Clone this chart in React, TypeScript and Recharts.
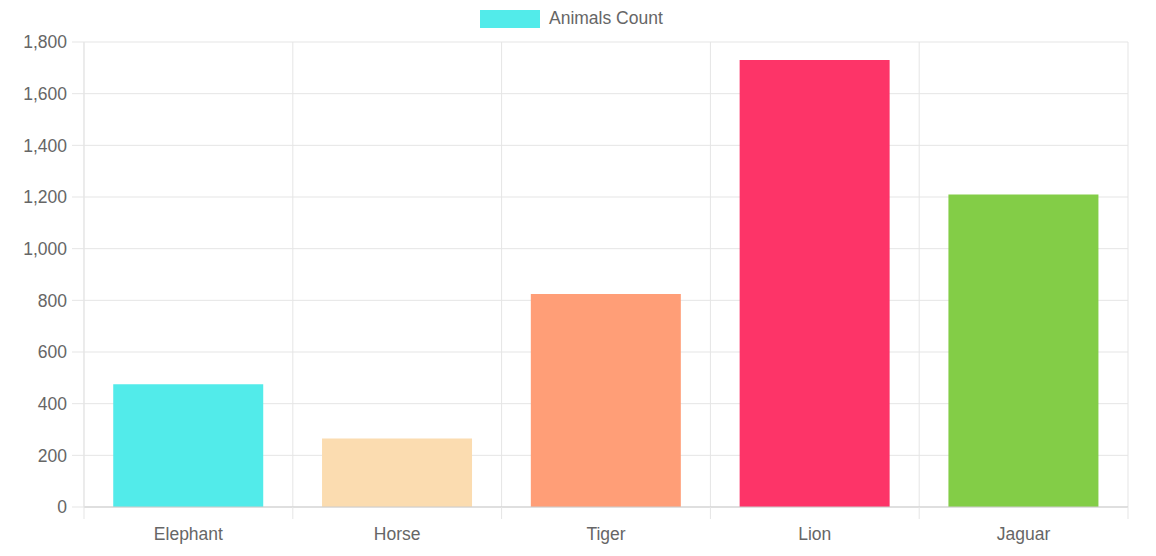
import React from 'react';
import { BarChart, Bar, XAxis, YAxis, CartesianGrid, Legend, Cell } from 'recharts';

const categories = ['Elephant', 'Horse', 'Tiger', 'Lion', 'Jaguar'];
const counts = [475, 265, 825, 1730, 1210];
const barColors = ['#52EBEA', '#FBDCB0', '#FF9E77', '#FD3468', '#83CD47'];
const yTicks = [0, 200, 400, 600, 800, 1000, 1200, 1400, 1600, 1800];
const seriesName = 'Animals Count';

const data = categories.map((name, i) => ({ name, value: counts[i] }));

const FONT = "'Liberation Sans', Arial, Helvetica, sans-serif";
const GRID = '#e5e5e5';
const TEXT = '#666666';

const XTick = (props: any) => {
  const { x, y, payload, width, visibleTicksCount, index } = props;
  const band = width / visibleTicksCount;
  const axisY = y - 12;
  const left = x - band / 2;
  const right = x + band / 2;
  return (
    <g>
      <line x1={left} x2={left} y1={axisY} y2={axisY + 12} stroke={GRID} strokeWidth={1} />
      {index === visibleTicksCount - 1 && (
        <line x1={right} x2={right} y1={axisY} y2={axisY + 12} stroke={GRID} strokeWidth={1} />
      )}
      <text x={x} y={axisY + 27} textAnchor="middle" dominantBaseline="central" fill={TEXT} fontSize={17.5} fontFamily={FONT}>
        {payload.value}
      </text>
    </g>
  );
};

const LegendContent = () => (
  <div style={{ height: 42, position: 'relative', fontFamily: FONT }}>
    <div style={{ position: 'absolute', left: 480, top: 10, width: 60, height: 18, background: barColors[0] }} />
    <div style={{ position: 'absolute', left: 549, top: 7, fontSize: 17.5, lineHeight: '22px', color: TEXT, whiteSpace: 'nowrap' }}>
      {seriesName}
    </div>
  </div>
);

export default function App() {
  return (
    <div style={{ position: 'absolute', left: 0, top: 0, width: 1156, height: 556, background: '#fff' }}>
      <BarChart
        width={1156}
        height={556}
        data={data}
        margin={{ top: 0, right: 28, bottom: 0, left: 0 }}
        barCategoryGap="14%"
      >
        <Legend verticalAlign="top" align="left" wrapperStyle={{ left: 0, top: 0, width: 1156 }} content={LegendContent} />
        <CartesianGrid
          stroke={GRID}
          verticalCoordinatesGenerator={({ offset }: any) =>
            categories.map((_, i) => offset.left + (i * offset.width) / categories.length).concat([offset.left + offset.width])
          }
        />
        <XAxis
          dataKey="name"
          height={49}
          tickLine={false}
          tickSize={6}
          tick={<XTick />}
          tickMargin={6}
          interval={0}
          axisLine={{ stroke: '#cccccc' }}
        />
        <YAxis
          width={84}
          domain={[0, 1800]}
          ticks={yTicks}
          interval={0}
          tickSize={12}
          tickMargin={5}
          tickLine={{ stroke: GRID }}
          axisLine={{ stroke: GRID }}
          tick={{ fill: TEXT, fontSize: 17.5, fontFamily: FONT }}
          tickFormatter={(v: number) => v.toLocaleString('en-US')}
        />
        <Bar dataKey="value" name={seriesName} isAnimationActive={false}>
          {data.map((d, i) => (
            <Cell key={d.name} fill={barColors[i]} />
          ))}
        </Bar>
      </BarChart>
    </div>
  );
}
